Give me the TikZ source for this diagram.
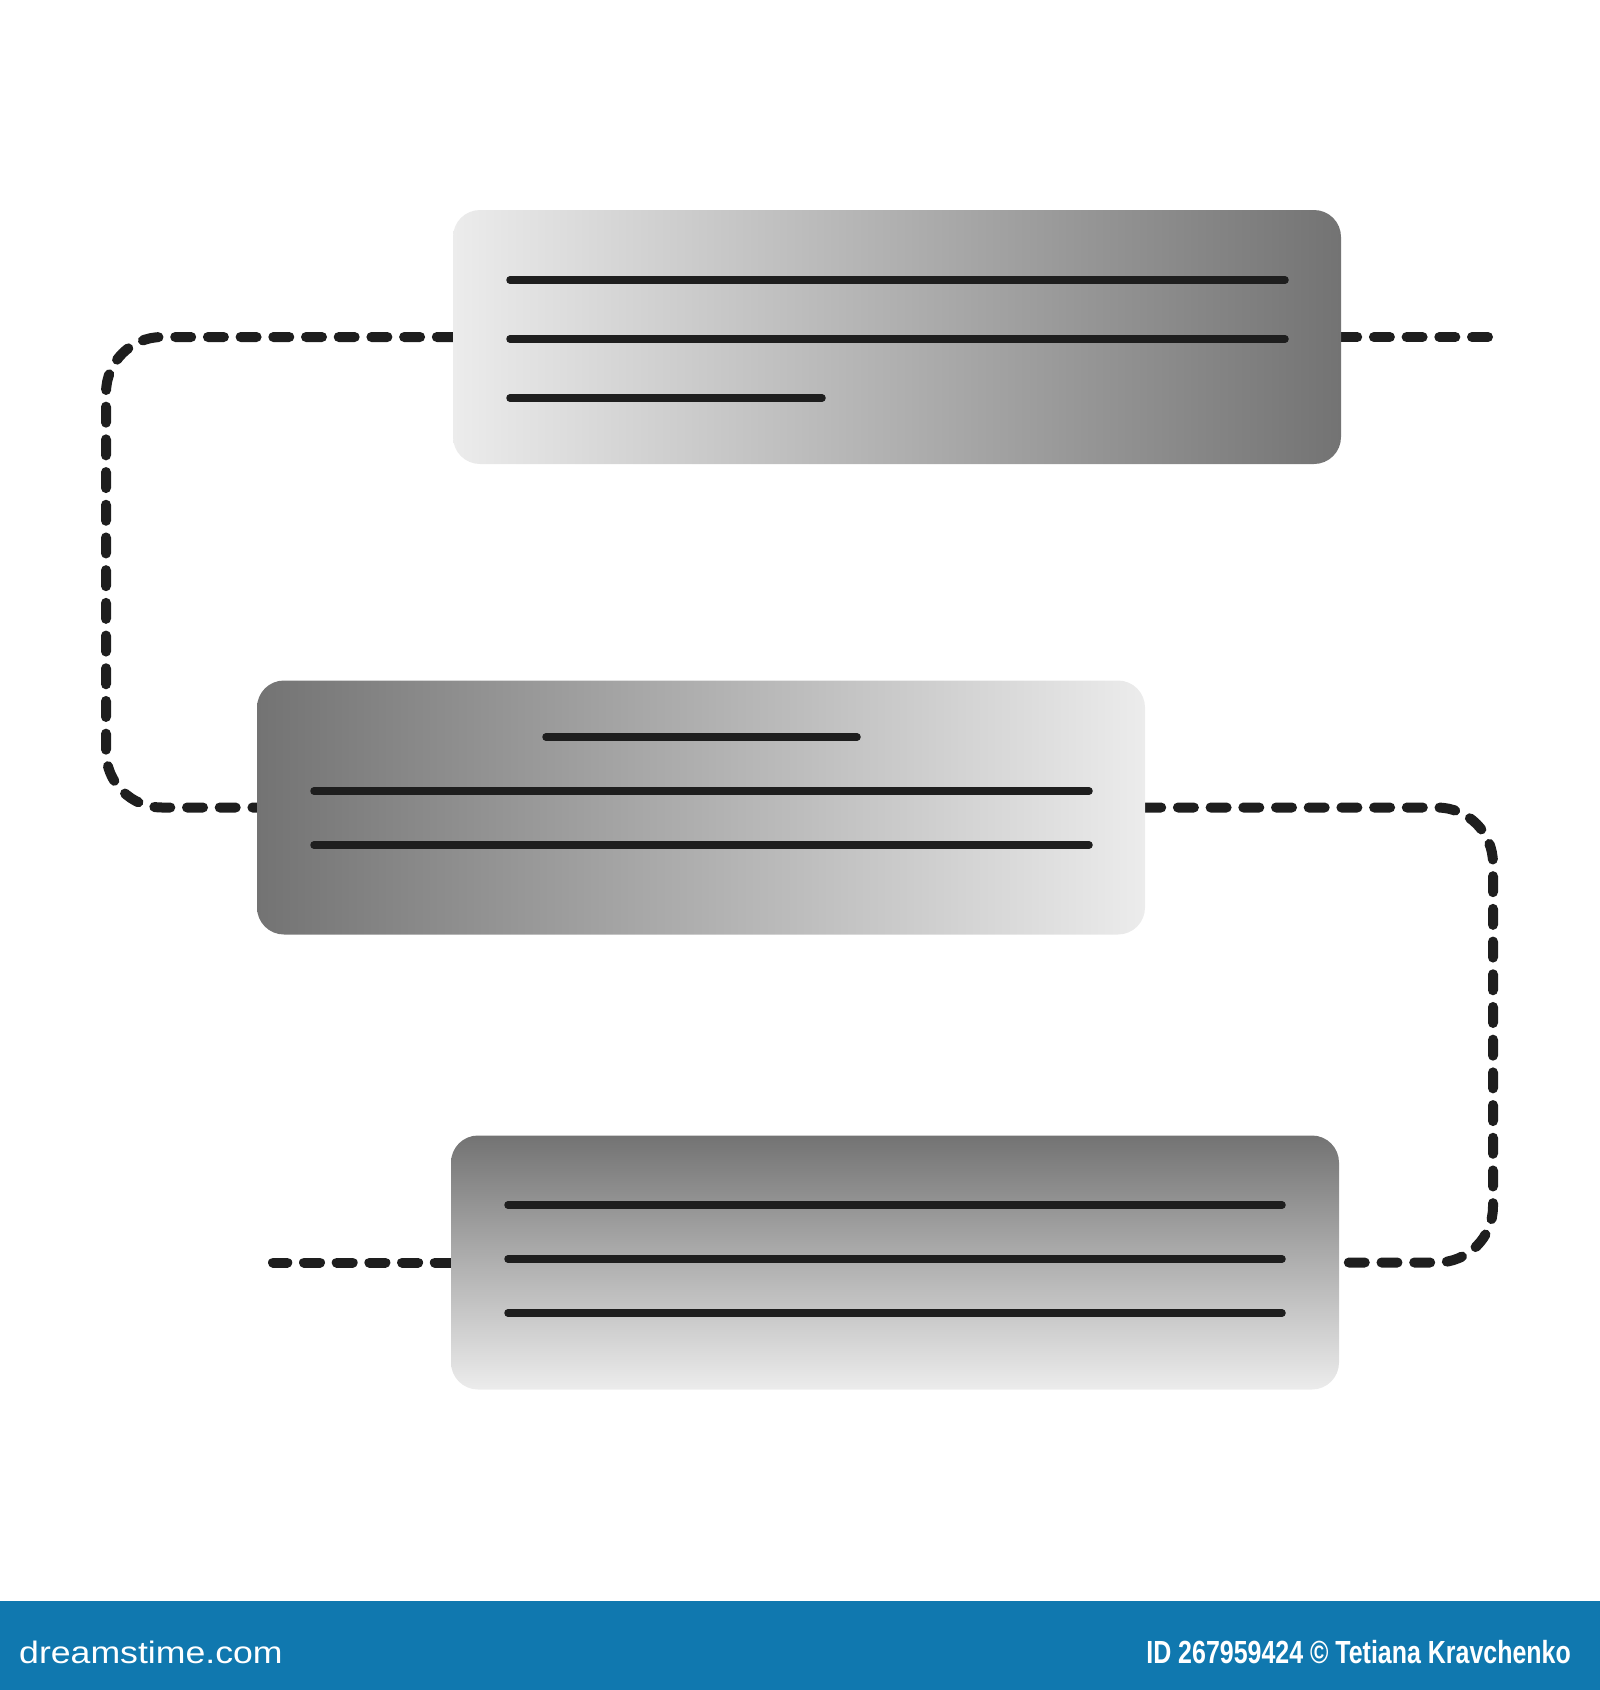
\documentclass[tikz,border=0pt]{standalone}
\usepackage{fontspec}
\newfontfamily\bannerfont{Liberation Sans}
\pgfdeclarelayer{bg}
\pgfsetlayers{bg,main}
\definecolor{boxlight}{RGB}{236,236,236}
\definecolor{boxmid}{RGB}{198,198,198}
\definecolor{boxdark}{RGB}{115,115,115}
\definecolor{ink}{RGB}{30,30,30}
\definecolor{bannerblue}{RGB}{16,120,175}
\tikzset{
  panel/.style={draw=none, inner sep=0pt, rounded corners=27pt, minimum width=888pt, minimum height=254pt},
  rule/.style={draw=ink, line width=7.5pt, line cap=round},
  link/.style={draw=ink, line width=10pt, line cap=round, dash pattern=on 16pt off 16.7pt, rounded corners=56pt},
}
\begin{document}
\begin{tikzpicture}[x=1pt,y=-1pt]
\useasboundingbox (0,0) rectangle (1600,1690);
% panels
\path (897,337) node[panel, left color=boxlight, middle color=boxmid, right color=boxdark] (b1) {};
\path (701,807.5) node[panel, left color=boxdark, middle color=boxmid, right color=boxlight] (b2) {};
\path (895,1262.5) node[panel, top color=boxdark, middle color=boxmid, bottom color=boxlight] (b3) {};
\coordinate (e1) at (1499,337);
\coordinate (e3) at (273,1262.5);
\coordinate (k1) at (106,337);
\coordinate (k2) at (1493,807.5);
% connectors (behind panels)
\begin{pgfonlayer}{bg}
\draw[link] (b1.west) -- (k1) -- (k1 |- b2.west) -- (b2.west);
\draw[link] (b2.east) -- (k2) -- (k2 |- b3.east) -- (b3.east);
\draw[link] (b1.east) -- (e1);
\draw[link] (b3.west) -- (e3);
\end{pgfonlayer}
% text rules
\draw[rule] (510,280) -- (1285,280);
\draw[rule] (510,339) -- (1285,339);
\draw[rule] (510,398) -- (822,398);
\draw[rule] (546,737) -- (857,737);
\draw[rule] (314,791) -- (1089,791);
\draw[rule] (314,845) -- (1089,845);
\draw[rule] (508,1205) -- (1282,1205);
\draw[rule] (508,1259) -- (1282,1259);
\draw[rule] (508,1313) -- (1282,1313);
% banner
\fill[bannerblue] (0,1601) rectangle (1600,1690);
\node[anchor=base west, inner sep=0pt, text=white, font=\bannerfont\fontsize{31}{31}\selectfont] (logo) at (19,1663) {\scalebox{1.15}[1]{dreamstime.com}};
\node[anchor=base east, inner sep=0pt, text=white, font=\bannerfont\bfseries\fontsize{32}{32}\selectfont] (credit) at (1571,1663) {\scalebox{0.78}[1]{ID 267959424 © Tetiana Kravchenko}};
\end{tikzpicture}
\end{document}
